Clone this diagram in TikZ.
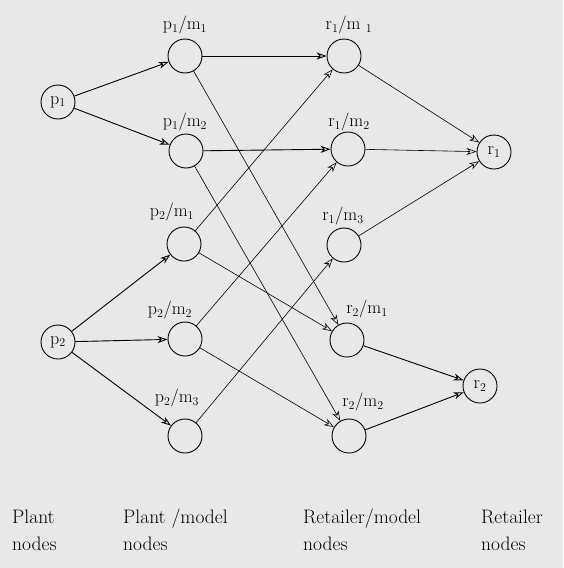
\documentclass[tikz,border=0pt]{standalone}
\usepackage{fontspec}
\usetikzlibrary{arrows.meta}
\begin{document}
\begin{tikzpicture}[x=1pt,y=-1pt,
  nd/.style={circle,draw,line width=0.9pt,minimum size=34pt,inner sep=0pt,font=\fontsize{18}{20}\selectfont},
  lbl/.style={font=\fontsize{18}{20}\selectfont,inner sep=0pt},
  bot/.style={font=\fontsize{19.5}{27}\selectfont,inner sep=0pt,align=left,anchor=base west},
  ar/.style={-{Stealth[open,length=10pt,width=7pt,inset=3pt]},line width=0.9pt},
  tar/.style={-{Stealth[open,length=10pt,width=7pt,inset=3pt]},line width=0.6pt}]
\fill[gray!18] (0,0) rectangle (563,568);
\useasboundingbox (0,0) rectangle (563,568);
% nodes
\node[nd] (p1) at (58,102) {p$_1$};
\node[nd] (p2) at (58,342) {p$_2$};
\node[nd] (a1) at (185,56) {};
\node[nd] (a2) at (186,151) {};
\node[nd] (b1) at (184,244) {};
\node[nd] (b2) at (185,339) {};
\node[nd] (b3) at (185,436) {};
\node[nd] (c1) at (344,56) {};
\node[nd] (c2) at (348,149) {};
\node[nd] (c3) at (344,245) {};
\node[nd] (d1) at (347,340) {};
\node[nd] (d2) at (349,436) {};
\node[nd] (r1) at (494,152) {r$_1$};
\node[nd] (r2) at (480,386) {r$_2$};
% labels
\node[lbl] (la1) at (185,25) {p$_1$/m$_1$};
\node[lbl] (la2) at (185,122) {p$_1$/m$_2$};
\node[lbl] (lb1) at (172,212) {p$_2$/m$_1$};
\node[lbl] (lb2) at (170,310) {p$_2$/m$_2$};
\node[lbl] (lb3) at (177,398) {p$_2$/m$_3$};
\node[lbl] (lc1) at (349,25) {r$_1$/m $_1$};
\node[lbl] (lc2) at (349,122) {r$_1$/m$_2$};
\node[lbl] (lc3) at (343,216) {r$_1$/m$_3$};
\node[lbl] (ld1) at (367,309) {r$_2$/m$_1$};
\node[lbl] (ld2) at (363,402) {r$_2$/m$_2$};
% bottom texts
\node[bot] (t1) at (12,550) {Plant\\nodes};
\node[bot] (t2) at (123,550) {Plant /model\\nodes};
\node[bot] (t3) at (303,550) {Retailer/model\\nodes};
\node[bot] (t4) at (481,550) {Retailer\\nodes};
% edges
\draw[ar] (p1) -- (a1);
\draw[ar] (p1) -- (a2);
\draw[ar] (p2) -- (b1);
\draw[ar] (p2) -- (b2);
\draw[ar] (p2) -- (b3);
\draw[ar] (a1) -- (c1);
\draw[ar] (a2) -- (c2);
\draw[tar] (a1) -- (d1);
\draw[tar] (a2) -- (d2);
\draw[tar] (b1) -- (c1);
\draw[tar] (b1) -- (d1);
\draw[tar] (b2) -- (c2);
\draw[tar] (b2) -- (d2);
\draw[tar] (b3) -- (c3);
\draw[tar] (c1) -- (r1);
\draw[tar] (c2) -- (r1);
\draw[tar] (c3) -- (r1);
\draw[ar] (d1) -- (r2);
\draw[ar] (d2) -- (r2);
\end{tikzpicture}
\end{document}
